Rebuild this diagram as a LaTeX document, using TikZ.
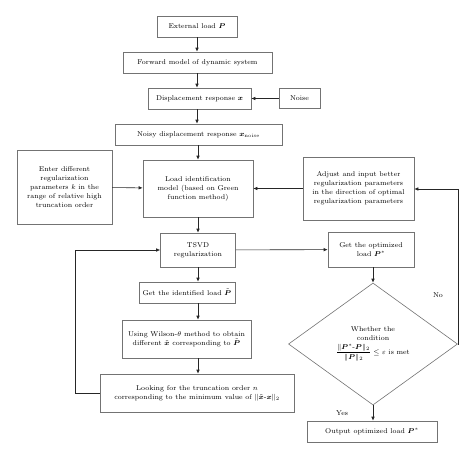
\documentclass[tikz,border=0pt]{standalone}
\usepackage{amsmath}
\usepackage{amssymb}
\usepackage{tikz}
\usetikzlibrary{arrows.meta}
\usetikzlibrary{shapes.geometric}

\begin{document}
\begin{tikzpicture}[x=1pt,y=-1pt,
  box/.style={draw=black!55,line width=0.6pt,inner sep=1pt,align=center,font=\fontsize{7}{9}\selectfont},
  cond/.style={diamond,draw=black!55,line width=0.6pt,inner sep=0pt,align=center,font=\fontsize{7}{9}\selectfont},
  flow/.style={draw=black!85,line width=0.6pt,-{Latex[length=4pt,width=3.5pt]}},
  lbl/.style={font=\fontsize{7}{9}\selectfont}]
\useasboundingbox (0,0) rectangle (474,459);

\node[box,minimum width=80pt,minimum height=21pt] (load) at (197,26.5) {External load $\boldsymbol{P}$};			% Last
\node[box,minimum width=149pt,minimum height=21pt] (forward) at (197.5,62.5) {Forward model of dynamic system};	% Vorwaertsmodell
\node[box,minimum width=103pt,minimum height=21pt] (disp) at (199.5,98.5) {Displacement response $\boldsymbol{x}$};	% Verschiebung
\node[box,minimum width=41pt,minimum height=20pt] (noise) at (299.5,98.5) {Noise};							% Rauschen
\node[box,minimum width=167pt,minimum height=21pt] (noisy) at (198.5,134.5) {Noisy displacement response $\boldsymbol{x}_{\mathrm{noise}}$};

\node[box,minimum width=95pt,minimum height=74pt] (enter) at (64.5,187) {Enter different\\regularization\\parameters $k$ in the\\range of relative high\\truncation order};
\node[box,minimum width=110pt,minimum height=57pt] (ident) at (198,188.5) {Load identification\\model (based on Green\\function method)};
\node[box,minimum width=111pt,minimum height=63pt] (adjust) at (358.5,188.5) {Adjust and input better\\regularization parameters\\in the direction of optimal\\regularization parameters};

\node[box,minimum width=75pt,minimum height=34pt] (tsvd) at (198,250) {TSVD\\regularization};				% TSVD
\node[box,minimum width=86pt,minimum height=35pt] (optim) at (371,249.5) {Get the optimized\\load $\boldsymbol{P}^{*}$};

\node[box,minimum width=96pt,minimum height=21pt] (getP) at (187,292.5) {Get the identified load $\tilde{\boldsymbol{P}}$};
\node[box,minimum width=129pt,minimum height=38pt] (wilson) at (186.5,339) {Using Wilson-$\theta$ method to obtain\\different $\tilde{\boldsymbol{x}}$ corresponding to $\tilde{\boldsymbol{P}}$};
\node[box,minimum width=194pt,minimum height=38pt] (look) at (197,393) {Looking for the truncation order $n$\\corresponding to the minimum value of $\|\tilde{\boldsymbol{x}}\text{-}\boldsymbol{x}\|_2$};

\node[cond,minimum width=169pt,minimum height=122pt] (check) at (373,344) {Whether the\\condition\\[2pt]$\dfrac{\|\boldsymbol{P}^{*}\text{-}\boldsymbol{P}\|_2}{\|\boldsymbol{P}\|_2}\leq\varepsilon$ is met};	% Abbruchbedingung
\node[box,minimum width=130pt,minimum height=21pt] (output) at (372,431.5) {Output optimized load $\boldsymbol{P}^{*}$};

\coordinate (lcorner) at (75,250);												% linke Schleife
\coordinate (rcorner) at (458,189);												% rechte Schleife

\draw[flow] (load) -- (forward.north -| load);									% Hauptkette
\draw[flow] (forward.south -| load) -- (disp.north -| load);
\draw[flow] (noise) -- (disp);
\draw[flow] (disp.south -| load) -- (noisy.north -| load);
\draw[flow] (noisy.south -| ident) -- (ident);
\draw[flow] (enter) -- (ident);
\draw[flow] (adjust.west) -- (ident.east |- adjust.west);
\draw[flow] (ident) -- (tsvd);
\draw[flow] (tsvd) -- (optim);
\draw[flow] (tsvd.south) -- (tsvd.south |- getP.north);
\draw[flow] (getP.south -| tsvd) -- (wilson.north -| tsvd);
\draw[flow] (wilson.south -| tsvd) -- (look.north -| tsvd);
\draw[flow] (look.west) -| (lcorner) -- (tsvd.west);							% zurueck zu TSVD
\draw[flow] (optim.south -| check) -- (check.north);
\draw[flow] (check.south) -- (output.north -| check);
\draw[flow] (check.east) -- (check.east -| rcorner) -- (rcorner) -- (adjust.east |- rcorner);	% Nein-Zweig

\node[lbl] (yes) at (342,413) {Yes};
\node[lbl] (no) at (438,295) {No};

\end{tikzpicture}
\end{document}
